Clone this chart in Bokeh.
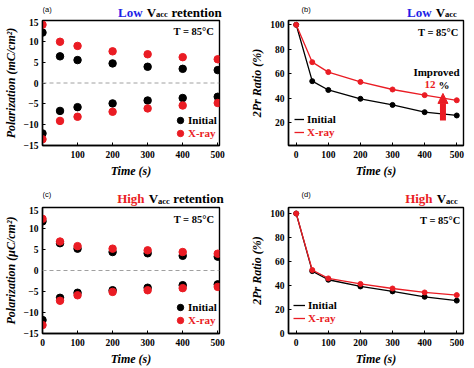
from bokeh.plotting import figure
from bokeh.models import (Range1d, FixedTicker, Label, Legend, LegendItem, Span,
                          Arrow, NormalHead)
from bokeh.core.properties import value
from bokeh.layouts import gridplot
from bokeh.embed import file_html
from bokeh.resources import INLINE

# ---------------- data ----------------
time_s = [0, 50, 100, 200, 300, 400, 500]

# (a) Low Vacc retention, mC/cm^2
a_init_pos = [12.1, 6.4, 5.5, 4.7, 3.9, 3.4, 3.1]
a_init_neg = [-12.1, -6.7, -5.8, -4.9, -4.2, -3.6, -3.3]
a_xray_pos = [14.0, 9.9, 8.9, 7.6, 6.9, 6.2, 5.7]
a_xray_neg = [-13.5, -9.1, -8.1, -6.9, -6.1, -5.4, -4.8]

# (b) Low Vacc, 2Pr ratio (%)
b_init = [100, 54.0, 46.8, 39.6, 34.6, 28.7, 26.0]
b_xray = [100, 69.5, 61.4, 53.4, 47.2, 42.6, 38.4]

# (c) High Vacc retention, uC/cm^2
c_init_pos = [11.7, 6.5, 5.2, 4.4, 4.1, 3.5, 3.3]
c_init_neg = [-11.8, -6.5, -5.3, -4.7, -4.1, -3.5, -3.3]
c_xray_pos = [12.3, 6.9, 5.8, 5.2, 4.8, 4.4, 4.0]
c_xray_neg = [-13.0, -7.2, -5.9, -5.1, -4.7, -4.2, -3.9]

# (d) High Vacc, 2Pr ratio (%)
d_init = [100, 52.0, 44.8, 39.2, 35.1, 30.6, 27.4]
d_xray = [100, 52.9, 45.9, 41.3, 37.5, 34.2, 32.0]

series_names = ["Initial", "X-ray"]
x_ticks_a = [100, 200, 300, 400, 500]
x_ticks_full = [0, 100, 200, 300, 400, 500]
y_ticks_pol = [-15, -10, -5, 0, 5, 10, 15]
y_ticks_b = [20, 40, 60, 80, 100]
y_ticks_d = [0, 20, 40, 60, 80, 100]

RED = "#ea1c24"
BLUE = "#1e1ee6"
BLACK = "#000000"
SERIF = "Liberation Serif"


def make_fig(w, h, bl, br, bt, bb, xr, yr, xt, yt, xlabel, ylabel):
    p = figure(width=w, height=h, output_backend="svg", toolbar_location=None,
               x_range=Range1d(*xr), y_range=Range1d(*yr),
               min_border_left=bl, min_border_right=br,
               min_border_top=bt, min_border_bottom=bb)
    p.xgrid.visible = False
    p.ygrid.visible = False
    p.outline_line_color = BLACK
    p.outline_line_width = 1.4
    p.outline_line_alpha = 1
    p.background_fill_color = "white"
    p.border_fill_color = "white"
    p.xaxis.ticker = FixedTicker(ticks=xt)
    p.yaxis.ticker = FixedTicker(ticks=yt)
    for ax in (p.xaxis[0], p.yaxis[0]):
        ax.axis_line_color = BLACK
        ax.axis_line_width = 1.4
        ax.major_tick_in = 3
        ax.major_tick_out = 0
        ax.major_tick_line_color = BLACK
        ax.minor_tick_line_color = None
        ax.major_label_text_font = SERIF
        ax.major_label_text_font_style = "bold"
        ax.major_label_text_font_size = "9.5px"
        ax.major_label_text_color = BLACK
        ax.axis_label_text_font = SERIF
        ax.axis_label_text_font_style = "bold italic"
        ax.axis_label_text_color = BLACK
    p.xaxis.axis_label = xlabel
    p.yaxis.axis_label = ylabel
    p.xaxis.axis_label_text_font_size = "12px"
    p.yaxis.axis_label_text_font_size = "12px"
    p.xaxis.major_label_standoff = 5
    p.yaxis.major_label_standoff = 4
    p.xaxis.axis_label_standoff = 3
    p.yaxis.axis_label_standoff = 3
    return p


def strip(w, h):
    s = figure(width=w, height=h, output_backend="svg", toolbar_location=None,
               title=None, frame_width=w, frame_height=h,
               x_range=Range1d(0, w), y_range=Range1d(0, h),
               x_axis_location=None, y_axis_location=None,
               min_border_left=0, min_border_right=0,
               min_border_top=0, min_border_bottom=0,
               outline_line_color=None)
    s.xgrid.visible = False
    s.ygrid.visible = False
    s.background_fill_color = "white"
    s.border_fill_color = "white"
    return s


def stext(s, t, x, y, size, color=BLACK, font=SERIF, style="bold"):
    s.text(x=[x], y=[y], text=[t], text_font=value(font),
           text_font_style=style, text_font_size=size, text_color=color,
           text_align="left", text_baseline="alphabetic")


def strip_title(s, tag, xtag, ytag, first, first_color, x0, xv, xacc, xret, yb,
                rest=True):
    stext(s, tag, xtag, ytag, "7.5px", font="Liberation Sans", style="normal")
    stext(s, first, x0, yb, "13px", first_color)
    stext(s, "V", xv, yb, "13px")
    stext(s, "acc", xacc, yb - 2.3, "8.5px")
    if rest:
        stext(s, "retention", xret, yb, "13px")


def txt(p, s, sx, sy, size, color=BLACK, align="left", font=SERIF, style="bold"):
    p.add_layout(Label(x=sx, y=sy, x_units="screen", y_units="screen", text=s,
                       text_font=font, text_font_style=style,
                       text_font_size=size, text_color=color,
                       text_align=align, text_baseline="alphabetic"))


def dot_legend(p, r_init, r_xray, x, y1, y2):
    for r, name, col, yy in ((r_init, series_names[0], BLACK, y1),
                             (r_xray, series_names[1], RED, y2)):
        lg = Legend(items=[LegendItem(label=name, renderers=[r])],
                    location=(x, yy), padding=0, margin=0, spacing=0,
                    glyph_width=16, glyph_height=16, label_height=16,
                    label_standoff=-2, border_line_alpha=0,
                    background_fill_alpha=0,
                    label_text_font=SERIF, label_text_font_style="bold",
                    label_text_font_size="11px", label_text_color=col)
        p.add_layout(lg)


def line_legend(p, r_init, r_xray, x, y1, y2, gw):
    for r, name, col, yy in ((r_init, series_names[0], BLACK, y1),
                             (r_xray, series_names[1], RED, y2)):
        lg = Legend(items=[LegendItem(label=name, renderers=[r])],
                    location=(x, yy), padding=0, margin=0, spacing=0,
                    glyph_width=gw, glyph_height=12, label_height=12,
                    label_standoff=3, border_line_alpha=0,
                    background_fill_alpha=0,
                    label_text_font=SERIF, label_text_font_style="bold",
                    label_text_font_size="11px", label_text_color=col)
        p.add_layout(lg)


def retention_panel(w, h, bl, br, bt, bb, xt, unit, ip, ineg, xp, xneg):
    p = make_fig(w, h, bl, br, bt, bb, (0, 505), (-15, 15), xt, y_ticks_pol,
                 "Time (s)", "Polarization (" + unit + "/cm²)")
    p.add_layout(Span(location=0, dimension="width", line_color="#a0a0a0",
                      line_width=1, line_dash="4 3"))
    r_i = p.scatter(time_s + time_s, ip + ineg, size=7.5, color=BLACK)
    r_x = p.scatter(time_s + time_s, xp + xneg, size=7.5, color=RED)
    return p, r_i, r_x


def ratio_panel(w, h, bl, br, bt, bb, yr, yt, yi, yx):
    p = make_fig(w, h, bl, br, bt, bb, (-24, 521), yr, x_ticks_full, yt,
                 "Time (s)", "2Pr Ratio (%)")
    li = p.line(time_s, yi, line_width=1.3, color=BLACK)
    p.scatter(time_s, yi, size=5, color=BLACK)
    lx = p.line(time_s, yx, line_width=1.3, color=RED)
    p.scatter(time_s, yx, size=5, color=RED)
    return p, li, lx


# ---------- title strips ----------
ta = strip(232, 18)
strip_title(ta, "(a)", 0, 9, "Low", BLUE, 75.6, 104.2, 113.6, 128.9, 6.5)
tb = strip(234, 18)
strip_title(tb, "(b)", 13, 9, "Low", BLUE, 118.6, 147.2, 156.6, 0, 6.5,
            rest=False)
tc = strip(232, 22)
strip_title(tc, "(c)", 0, 12.5, "High", RED, 74.65, 106.15, 115.55, 130.85, 8)
td = strip(234, 22)
strip_title(td, "(d)", 13, 12, "High", RED, 116.65, 148.15, 157.55, 0, 8,
            rest=False)

# ---------- (a) ----------
pa, ra_i, ra_x = retention_panel(232, 166, 38, 13, 1, 38, x_ticks_a, "mC",
                                 a_init_pos, a_init_neg, a_xray_pos, a_xray_neg)
txt(pa, "T = 85°C", 171.5, 114, "10.5px", align="right")
dot_legend(pa, ra_i, ra_x, 130, 17, 4)

# ---------- (b) ----------
pb, lb_i, lb_x = ratio_panel(234, 166, 56, 3, 2, 39, (1.5, 103.5), y_ticks_b,
                             b_init, b_xray)
txt(pb, "T = 85°C", 170, 113, "10.5px", align="right")
txt(pb, "Improved", 148, 74, "11px", align="center")
txt(pb, "12", 147, 61, "11px", RED, align="right")
txt(pb, "%", 150, 61, "11px")
pb.add_layout(Arrow(end=NormalHead(size=10, fill_color=RED, line_color=RED),
                    x_start=457, y_start=22, x_end=457, y_end=44,
                    line_width=6, line_color=RED))
line_legend(pb, lb_i, lb_x, 6, 20.3, 6.9, 10)

# ---------- (c) ----------
pc, rc_i, rc_x = retention_panel(232, 162, 38, 13, 1, 34, x_ticks_full, "μC",
                                 c_init_pos, c_init_neg, c_xray_pos, c_xray_neg)
txt(pc, "T = 85°C", 171.7, 114, "10.5px", align="right")
dot_legend(pc, rc_i, rc_x, 130, 18, 5.3)

# ---------- (d) ----------
pd_, ld_i, ld_x = ratio_panel(234, 162, 55, 3, 1, 35, (0, 105), y_ticks_d,
                              d_init, d_xray)
txt(pd_, "T = 85°C", 172, 113, "10.5px", align="right")
line_legend(pd_, ld_i, ld_x, 5, 22.3, 9, 12)

grid = gridplot([[ta, tb], [pa, pb], [tc, td], [pc, pd_]], toolbar_location=None)

open("out.html", "w").write(file_html(grid, INLINE))
